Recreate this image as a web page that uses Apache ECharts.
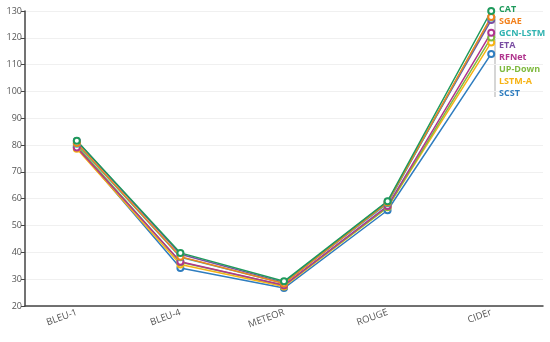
<!DOCTYPE html>
<html>
<head>
<meta charset="utf-8">
<script src="https://cdn.jsdelivr.net/npm/echarts@6/dist/echarts.min.js"></script>
<style>html,body{margin:0;padding:0;background:#fff}#c{width:550px;height:342px}</style>
</head>
<body>
<div id="c"></div>
<script>
var categories = ['BLEU-1', 'BLEU-4', 'METEOR', 'ROUGE', 'CIDEr'];
var seriesNames = ['CAT', 'SGAE', 'GCN-LSTM', 'ETA', 'RFNet', 'UP-Down', 'LSTM-A', 'SCST'];
var CAT = [81.6, 39.8, 29.2, 59.1, 130.0];
var SGAE = [80.8, 38.4, 28.4, 58.6, 127.8];
var GCN_LSTM = [80.5, 38.2, 28.5, 58.3, 127.6];
var ETA = [81.5, 39.3, 28.8, 58.9, 126.6];
var RFNet = [79.1, 36.5, 27.7, 57.3, 121.9];
var UP_Down = [79.8, 36.3, 27.7, 56.9, 120.1];
var LSTM_A = [78.6, 35.5, 27.3, 56.8, 118.3];
var SCST = [79.3, 34.2, 26.7, 55.7, 114.0];
var yTicks = [20, 30, 40, 50, 60, 70, 80, 90, 100, 110, 120, 130];

var dataMap = {'CAT': CAT, 'SGAE': SGAE, 'GCN-LSTM': GCN_LSTM, 'ETA': ETA, 'RFNet': RFNet, 'UP-Down': UP_Down, 'LSTM-A': LSTM_A, 'SCST': SCST};
var colors = {'CAT': '#1f9a5c', 'SGAE': '#f2811d', 'GCN-LSTM': '#2fb3b0', 'ETA': '#7a4ea3', 'RFNet': '#b0358e', 'UP-Down': '#7fba3f', 'LSTM-A': '#f7b314', 'SCST': '#2f7dbf'};

var chart = echarts.init(document.getElementById('c'));
var series = seriesNames.slice().reverse().map(function (n) {
  return {
    name: n, type: 'line', data: dataMap[n],
    symbol: 'emptyCircle', symbolSize: 6,
    lineStyle: {width: 1.5, color: colors[n]},
    itemStyle: {color: colors[n], borderWidth: 1.2},
    emphasis: {disabled: true}
  };
});
chart.setOption({
  animation: false,
  textStyle: {fontFamily: 'Open Sans'},
  grid: {left: 25, right: 7, top: 11, bottom: 36, containLabel: false},
  legend: {
    orient: 'vertical', left: 499, top: 5, itemGap: 3, padding: 0,
    itemWidth: 0, itemHeight: 0, icon: 'none', selectedMode: false,
    textStyle: {fontSize: 9, fontWeight: 'bold', padding: [0, 0, 0, -5]},
    data: seriesNames.map(function (n) { return {name: n, textStyle: {color: colors[n]}}; })
  },
  graphic: [{
    type: 'line', shape: {x1: 495, y1: 16, x2: 495, y2: 97},
    style: {stroke: '#c8c8c8', lineWidth: 1.5}, silent: true
  }],
  xAxis: {
    type: 'category', data: categories, boundaryGap: true,
    axisLine: {lineStyle: {color: '#444', width: 1.5}},
    axisTick: {alignWithLabel: true, length: 4, lineStyle: {color: '#444'}},
    axisLabel: {rotate: 20, fontSize: 9.5, color: '#555', margin: 6}
  },
  yAxis: {
    type: 'value', min: yTicks[0], max: yTicks[yTicks.length - 1], interval: 10,
    axisLine: {show: true, lineStyle: {color: '#444', width: 1.5}},
    axisTick: {show: true, length: 4, lineStyle: {color: '#444'}},
    axisLabel: {fontSize: 9, color: '#555', margin: 3},
    splitLine: {lineStyle: {color: '#f0f0f0', width: 1}}
  },
  series: series
});
</script>
</body>
</html>
